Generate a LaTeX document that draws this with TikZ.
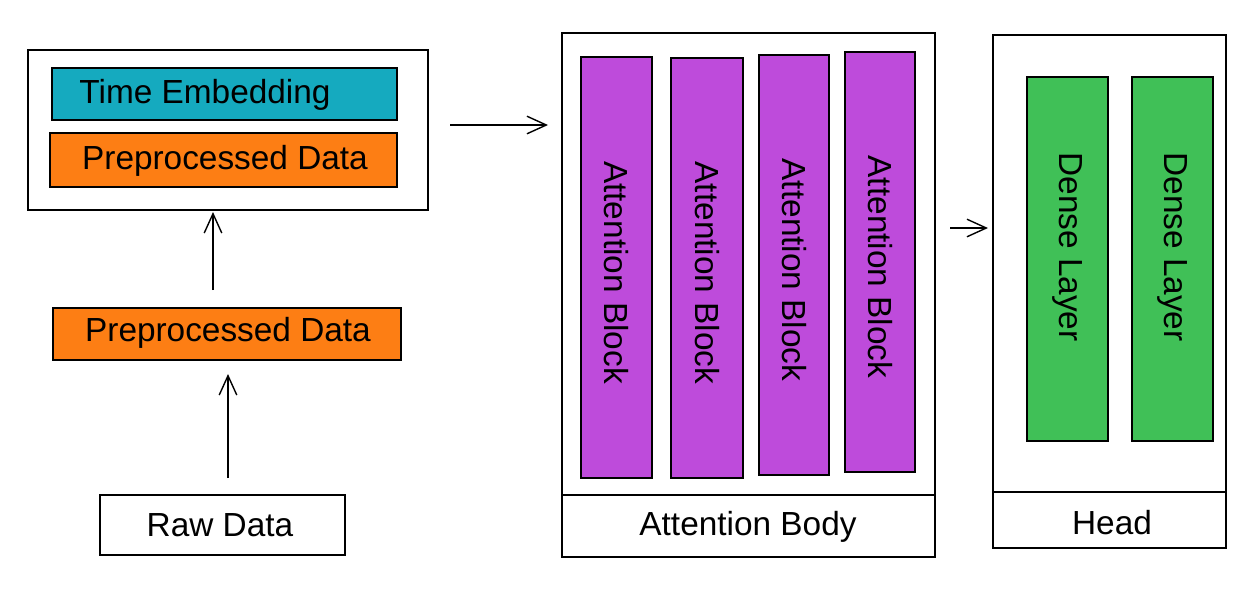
\documentclass[tikz,border=0pt]{standalone}
\usepackage{fontspec}
\setmainfont{Liberation Sans}
\usetikzlibrary{arrows.meta}
\definecolor{teal1}{HTML}{15AABF}
\definecolor{orange1}{HTML}{FD7E14}
\definecolor{purple1}{HTML}{BE4BDB}
\definecolor{green1}{HTML}{40C057}
\begin{document}
\begin{tikzpicture}[x=0.02cm,y=-0.02cm,
  box/.style={draw=black,line width=0.9pt,inner sep=0pt},
  lbl/.style={font=\fontsize{19}{22}\selectfont},
  arr/.style={line width=0.8pt,-{Straight Barb[length=11pt,width=10pt]}}]
\useasboundingbox (0,0) rectangle (1246,596);
% left
\draw[box] (28,50) rectangle (428,210);
\draw[box,fill=teal1] (52,68) rectangle (397,120);
\node[lbl] (te) at (205,95) {Time Embedding};
\draw[box,fill=orange1] (50,133) rectangle (397,187);
\node[lbl] (pd1) at (225,161) {Preprocessed Data};
\coordinate (top) at (213,212);
\draw[box,fill=orange1] (53,308) rectangle (401,360);
\node[lbl] (pd2) at (228,333) {Preprocessed Data};
\coordinate (p2) at (213,290);
\coordinate (p2b) at (228,374);
\draw[box] (100,495) rectangle (345,555);
\node[lbl] (raw) at (220,525) {Raw Data};
\coordinate (rawt) at (228,478);
\draw[arr] (p2) -- (top);
\draw[arr] (rawt) -- (p2b);
% arrow to body
\coordinate (a1) at (450,125); \coordinate (a2) at (548,125);
\draw[arr] (a1) -- (a2);
% body
\draw[box] (562,33) rectangle (935,495);
\draw[box] (562,495) rectangle (935,557);
\node[lbl] (ab) at (748,527) {Attention Body};
\foreach \x/\y/\X/\Y [count=\i] in {581/57/652/478, 671/58/743/478, 759/55/829/475, 845/52/915/472}{
  \draw[box,fill=purple1] (\x,\y) rectangle (\X,\Y);
  \node[lbl,rotate=-90] (blk\i) at ({(\x+\X)/2},{(\y+\Y)/2 + 5}) {Attention Block};
}
\coordinate (b1) at (950,228); \coordinate (b2) at (988,228);
\draw[arr] (b1) -- (b2);
% head
\draw[box] (993,35) rectangle (1226,492);
\draw[box] (993,492) rectangle (1226,548);
\node[lbl] (hd) at (1112,523) {Head};
\foreach \x/\X [count=\i] in {1027/1108, 1132/1213}{
  \draw[box,fill=green1] (\x,77) rectangle (\X,441);
  \node[lbl,rotate=-90] (dl\i) at ({(\x+\X)/2},247) {Dense Layer};
}
\end{tikzpicture}
\end{document}
